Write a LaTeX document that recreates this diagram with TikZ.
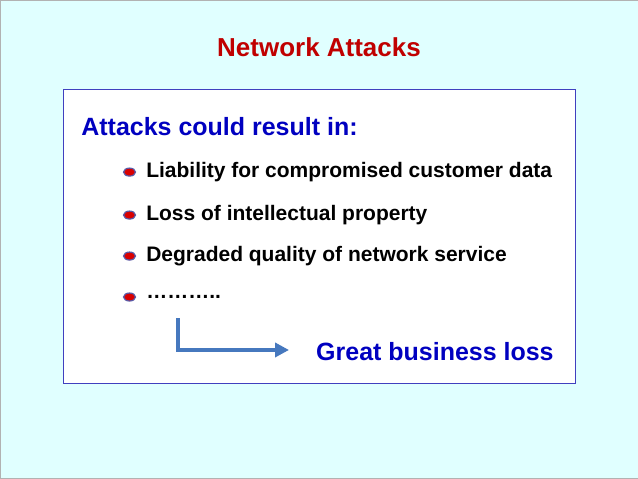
\documentclass[tikz,border=0pt]{standalone}
\usepackage{fontspec}
\setmainfont{Liberation Sans}
\usetikzlibrary{positioning,arrows.meta,shapes.geometric}
\definecolor{bgcyan}{RGB}{224,255,255}
\definecolor{titlered}{RGB}{192,0,0}
\definecolor{navy}{RGB}{0,0,192}
\definecolor{arrowblue}{RGB}{70,120,190}
\begin{document}
\begin{tikzpicture}[x=1pt,y=-1pt,
    item/.style = {anchor=west, inner sep=0pt, font=\bfseries\fontsize{21}{24}\selectfont},
    bigtext/.style = {item, text=navy, font=\bfseries\fontsize{25}{28}\selectfont},
    bullet/.style = {draw=gray!70!blue, fill=red!85!black, ellipse, minimum width=12pt, minimum height=8pt, inner sep=0pt, line width=1.2pt}]
    %Hintergrund
    \path[fill=bgcyan, draw=gray!60] (0,0) rectangle (638,478);
    \useasboundingbox (0,0) rectangle (638,478);
    \node[text=titlered, font=\bfseries\fontsize{26}{30}\selectfont] (title) at (319,47) {Network Attacks};
    \draw[fill=white, draw=gray!50!blue, line width=1pt] (63,89) rectangle (576,384);

    %Text
    \node[bigtext] (head) at (81,126) {Attacks could result in:};
    \node[item] (l1) at (146,172) {Liability for compromised customer data};
    \node[item] (l2) at (146,215) {Loss of intellectual property};
    \node[item] (l3) at (146,256) {Degraded quality of network service};
    \node[item] (l4) at (146,297) {………..};
    \foreach \i in {1,...,4}
        \node[bullet, left = 10pt of l\i] (b\i) {};
    \node[bigtext] (loss) at (316,352) {Great business loss};

    %Pfeil
    \coordinate (start) at (178,318);
    \coordinate (ende) at (289,350);
    \draw[arrowblue, line width=3.5pt, -{Triangle[length=14pt, width=14pt]}] (start) |- (ende);
\end{tikzpicture}
\end{document}
